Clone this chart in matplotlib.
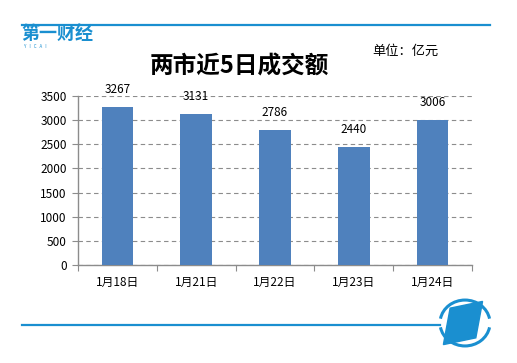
import numpy as np
import matplotlib
matplotlib.use("Agg")
import matplotlib.pyplot as plt
from matplotlib.patches import Polygon, Arc

plt.rcParams['font.family'] = ['Noto Sans CJK SC', 'DejaVu Sans']

# data
dates = ['1月18日', '1月21日', '1月22日', '1月23日', '1月24日']
turnover = [3267, 3131, 2786, 2440, 3006]
y_ticks = [0, 500, 1000, 1500, 2000, 2500, 3000, 3500]

W, H = 517, 363
fig = plt.figure(figsize=(W / 100, H / 100), dpi=100)
fig.patch.set_facecolor('white')

def fx(px):
    return px / W

def fy(py):
    return 1 - py / H

blue = '#1a8fd0'

# decorative header/footer lines
fig.add_artist(plt.Line2D([fx(22), fx(490)], [fy(25), fy(25)], color=blue, lw=1.6))
fig.add_artist(plt.Line2D([fx(22), fx(440)], [fy(325), fy(325)], color=blue, lw=1.6))

# logo text top-left
fig.text(fx(21), fy(39.5), '第一财经', color=blue, fontsize=13, fontweight='bold',
         va='baseline', ha='left')
fig.text(fx(24), fy(43.5), 'Y   I   C   A   I', color=blue, fontsize=3.2, va='top', ha='left')

# circle logo bottom-right
ax_logo = fig.add_axes([fx(438), fy(350), fx(54), 54 / H])
ax_logo.set_xlim(-1, 1)
ax_logo.set_ylim(-1, 1)
ax_logo.set_aspect('equal')
ax_logo.axis('off')
ax_logo.add_patch(Arc((0, 0), 1.85, 1.7, theta1=10, theta2=170, color=blue, lw=2.2))
ax_logo.add_patch(Arc((0, 0), 1.85, 1.7, theta1=190, theta2=350, color=blue, lw=2.2))
ax_logo.add_patch(Polygon([(-0.55, 0.55), (0.65, 0.8), (0.4, -0.55), (-0.8, -0.8)],
                          closed=True, color=blue))

# title and unit
fig.text(fx(239), fy(67), '两市近5日成交额', fontsize=17, fontweight='bold',
         ha='center', va='center')
fig.text(fx(372), fy(51), '单位：亿元', fontsize=9.5, ha='left', va='center')

# main chart
ax = fig.add_axes([fx(78), fy(265), fx(394), 169 / H])
x = np.arange(len(dates))
bars = ax.bar(x, turnover, width=0.4, color='#4f81bd', zorder=3)
ax.set_xlim(-0.5, len(dates) - 0.5)
ax.set_ylim(0, 3500)
ax.set_yticks(y_ticks)
ax.set_yticklabels([str(v) for v in y_ticks], fontsize=8.5)
ax.yaxis.grid(True, linestyle=(0, (4, 3)), color='#8c8c8c', lw=0.8, zorder=0)

ax.set_xticks(np.arange(len(dates) + 1) - 0.5)
ax.set_xticklabels([])
ax.set_xticks(x, minor=True)
ax.set_xticklabels(dates, minor=True, fontsize=8.5)
ax.tick_params(axis='x', which='major', length=4, color='#8c8c8c', direction='out')
ax.tick_params(axis='x', which='minor', length=0, pad=8)
ax.tick_params(axis='y', length=4, color='#8c8c8c', direction='out', pad=4)

for side in ['top', 'right']:
    ax.spines[side].set_visible(False)
for side in ['left', 'bottom']:
    ax.spines[side].set_color('#8c8c8c')
    ax.spines[side].set_linewidth(1)

for b, v in zip(bars, turnover):
    ax.annotate(str(v), (b.get_x() + b.get_width() / 2, v), xytext=(0, 8),
                textcoords='offset points', ha='center', va='bottom', fontsize=8.5)

fig.savefig('out.png', dpi=100)
